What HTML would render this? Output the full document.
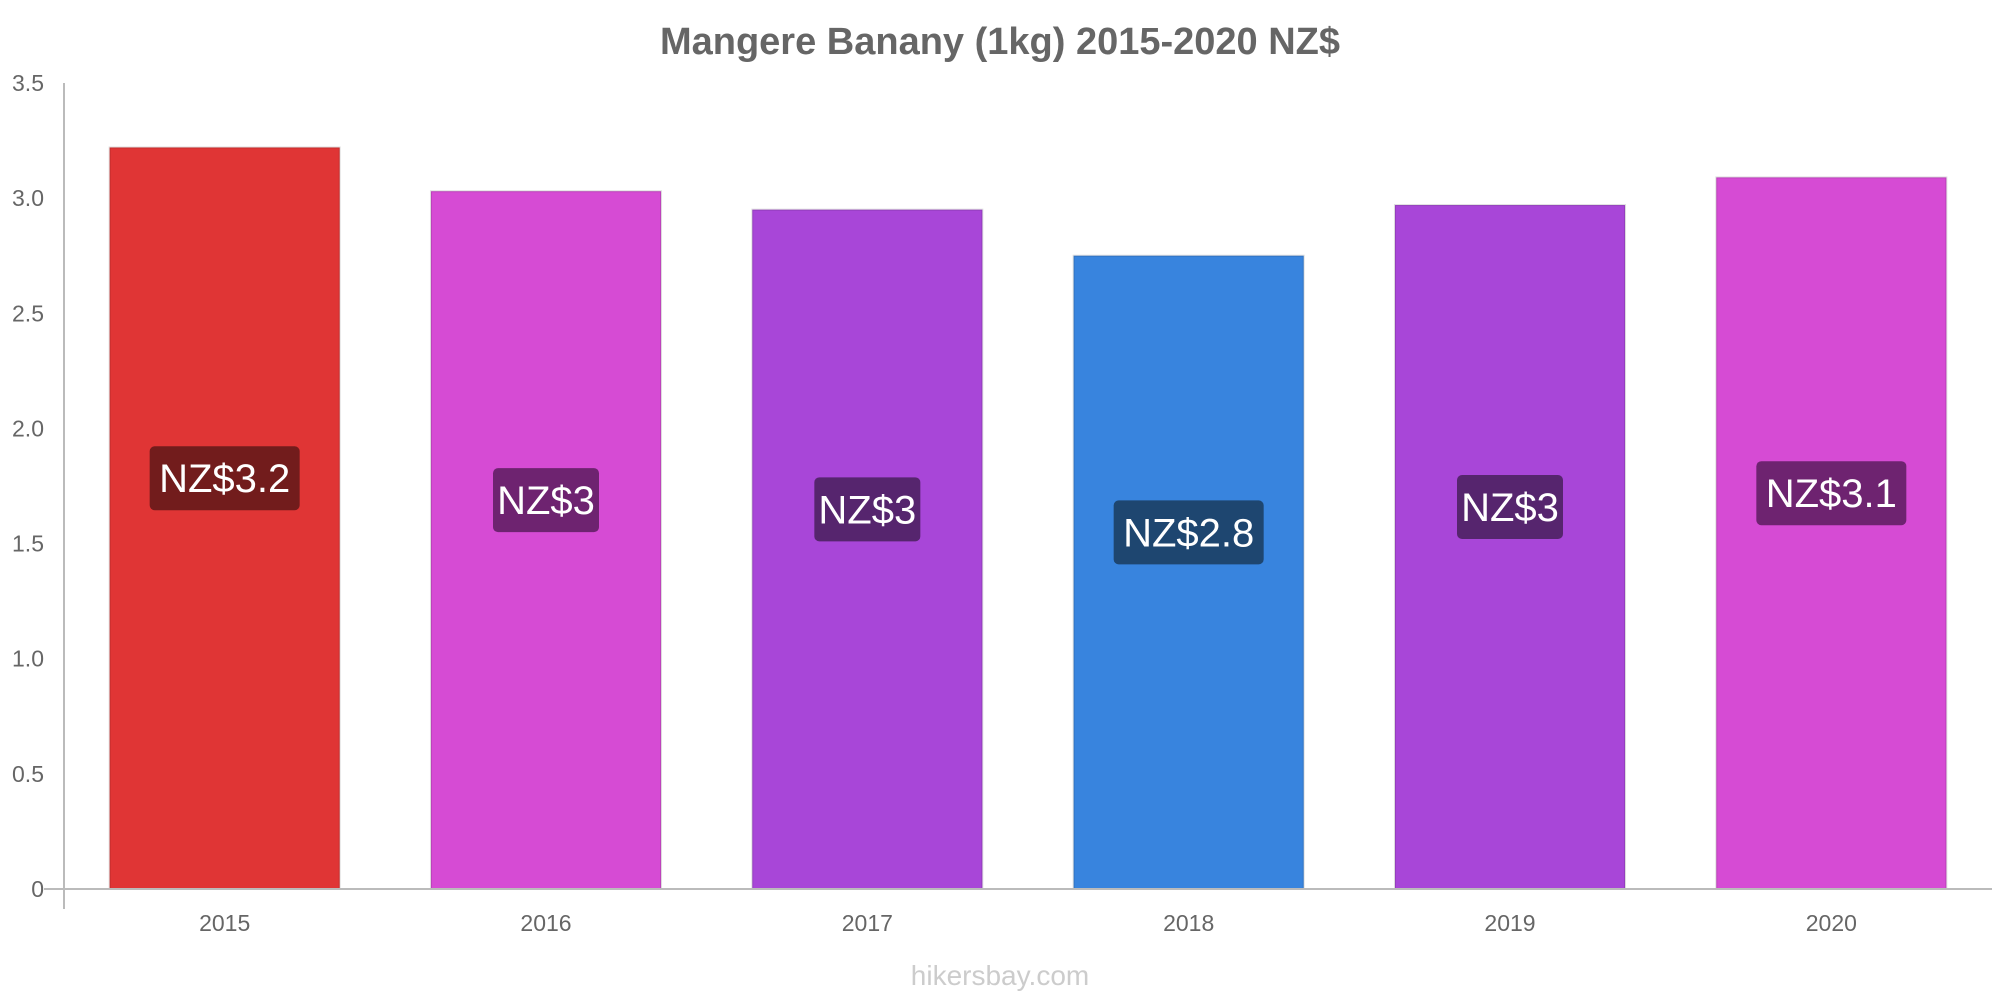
<!DOCTYPE html>
<html><head><meta charset="utf-8"><style>
body{margin:0;background:#fff;font-family:"Liberation Sans",sans-serif}
svg{display:block}
</style></head><body>
<svg width="2000" height="1000">
<text x="1000" y="54" text-anchor="middle" font-size="38" font-weight="bold" fill="#666">Mangere Banany (1kg) 2015-2020 NZ$</text>
<g id="yaxis"></g>
<g id="bars"></g>
<g id="xaxis"></g>
<text x="1000" y="985" text-anchor="middle" font-size="28" fill="#ccc">hikersbay.com</text>
</svg>
<script>
const categories=["2015","2016","2017","2018","2019","2020"];
const values=[3.22,3.03,2.95,2.75,2.97,3.09];
const valueLabels=["NZ$3.2","NZ$3","NZ$3","NZ$2.8","NZ$3","NZ$3.1"];
const barColors=["#e03535","#d64bd4","#a846d8","#3884de","#a846d8","#d64bd4"];
const labelColors=["#721c1c","#6e2370","#56256e","#1e4670","#56256e","#6e2370"];
const yTicks=[0,0.5,1,1.5,2,2.5,3,3.5];
const yTickLabels=["0","0.5","1.0","1.5","2.0","2.5","3.0","3.5"];
const NS="http://www.w3.org/2000/svg";
const x0=64,x1=1992,yb=889,yt=83,ymax=3.5;
const band=(x1-x0)/categories.length;
const y=v=>yb-(v/ymax)*(yb-yt);
const xc=i=>x0+band*(i+0.5);
function mk(t,a,p){const e=document.createElementNS(NS,t);for(const k in a)e.setAttribute(k,a[k]);p.appendChild(e);return e;}
const ya=document.getElementById('yaxis'),bg=document.getElementById('bars'),xa=document.getElementById('xaxis');
const yl=mk('line',{x1:x0,y1:yt,x2:x0,y2:909,stroke:'#bbb','stroke-width':2},ya);


yTicks.forEach((t,i)=>{
 const tx=mk('text',{x:44,y:y(t)+8,'text-anchor':'end','font-size':23,fill:'#666'},ya);
 tx.textContent=yTickLabels[i];
 
 
});
const bw=band*0.716;
categories.forEach((c,i)=>{
 const cx=xc(i),top=y(values[i]);
 const r=mk('rect',{x:cx-bw/2,y:top,width:bw,height:yb-top,fill:barColors[i],stroke:'rgba(0,0,0,0.12)','stroke-width':2},bg);
 
 
 const ly=(top+yb)/2-40;
 const pw=valueLabels[i].length*22+18;
 const p=mk('rect',{x:cx-pw/2,y:ly-32,width:pw,height:64,rx:5,fill:labelColors[i]},bg);
 
 
 const t=mk('text',{x:cx,y:ly+14,'text-anchor':'middle','font-size':40,fill:'#fff'},bg);
 t.textContent=valueLabels[i];
 
 
 const xt=mk('text',{x:cx,y:931,'text-anchor':'middle','font-size':23,fill:'#666'},xa);
 xt.textContent=c;
 
 
});
const xl=mk('line',{x1:x0-20,y1:yb,x2:x1,y2:yb,stroke:'#bbb','stroke-width':2},xa);


</script>
</body></html>
